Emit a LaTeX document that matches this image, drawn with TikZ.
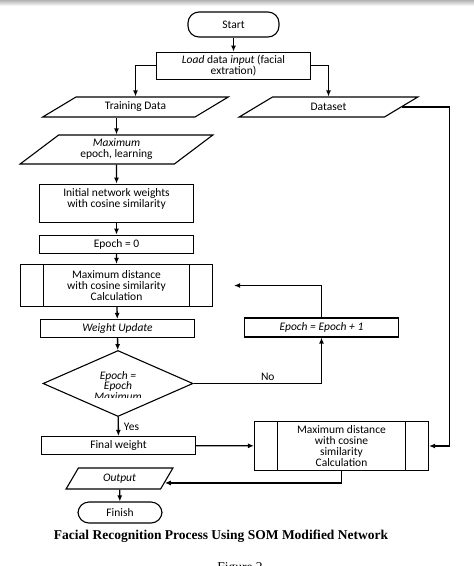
\documentclass[tikz,border=0pt]{standalone}
\usepackage{fontspec}
\setmainfont{Liberation Serif}
\setsansfont{Carlito}
\usetikzlibrary{arrows.meta,positioning,calc,shapes.geometric}

\begin{document}
\begin{tikzpicture}[x=1pt,y=-1pt,>={Latex[length=6pt,width=5pt]},
  font=\sffamily\fontsize{11.5}{11}\selectfont,
  base/.style={draw,line width=1.1pt,inner sep=0pt,align=center},
  proc/.style={base,rectangle,minimum width=154pt,minimum height=18pt},
  subproc/.style={proc,path picture={
    \draw[line width=1.1pt] ([xshift=23pt]path picture bounding box.north west) -- ([xshift=23pt]path picture bounding box.south west);
    \draw[line width=1.1pt] ([xshift=-23pt]path picture bounding box.north east) -- ([xshift=-23pt]path picture bounding box.south east);}},
  io/.style 2 args={base,trapezium,trapezium stretches=true,trapezium left angle=#1,trapezium right angle=#2},
  term/.style={base,rectangle,rounded corners=11pt},
  decision/.style={base,diamond,minimum width=150pt,minimum height=66pt},
  flow/.style={->,line width=1.3pt}]
\useasboundingbox (0,0) rectangle (474,566);
\shade[top color=gray!60,bottom color=white] (0,0) rectangle (474,6);

\node[term,minimum width=91pt,minimum height=25pt] (start) at (233.5,24.5) {Start};
\node[proc,minimum height=27pt,below=14pt of start] (load) {\textit{Load} data \textit{input} (facial\\extration)};
\node[io={30}{150},minimum width=187pt,minimum height=20pt] (train) at (135.5,107) {Training Data};
\node[io={35}{145},minimum width=179pt,minimum height=20pt] (data) at (328.5,107) {Dataset};
\node[io={41}{139},minimum width=193pt,minimum height=29pt] (maxep) at (116.5,149.5) {\itshape Maximum\\epoch, learning};
\node[proc,minimum height=38pt,below=19pt of maxep] (init) {Initial network weights\\with cosine similarity\\~};
\node[proc,below=12pt of init] (epzero) {Epoch = 0};
\node[subproc,minimum width=192pt,minimum height=42pt] (calc) at (116.5,285.5) {Maximum distance\\with cosine similarity\\Calculation};
\node[proc] (update) at (117.5,328.5) {\itshape Weight Update};
\node[decision] (check) at (118,383.5) {};
\node[proc] (final) at (118.5,445.5) {Final weight};
\node[io={62}{118},minimum width=107pt,minimum height=21pt] (output) at (119.5,478.5) {\itshape Output};
\node[term,minimum width=84pt,minimum height=21pt] (finish) at (120,512.5) {Finish};
\node[proc,minimum height=19pt] (next) at (321.5,327.5) {\itshape Epoch = Epoch + 1};
\node[subproc,minimum width=174pt,minimum height=49pt] (calctest) at (341.5,446) {Maximum distance\\with cosine\\similarity\\Calculation};

% text of the decision is cut off in the source
\begin{scope}
  \clip (40,355) rectangle (196,397);
  \node[font=\sffamily\itshape\fontsize{11.5}{10.5}\selectfont,align=center] (checktext) at (check.center |- 0,386) {Epoch =\\Epoch\\Maximum};
\end{scope}

\draw[flow] (start) -- (load);
\draw[flow] (load.west) -| (train.north);
\draw[flow] (load.east) -| (data.north);
\draw[flow] (train.south -| maxep.north) -- (maxep.north);
\draw[flow] (maxep) -- (init);
\draw[flow] (init) -- (epzero);
\draw[flow] (epzero) -- (calc);
\draw[flow] (calc) -- (update);
\draw[flow] (update) -- (check);
\draw[flow] (check.east) -| (next.south) node[pos=0.29,above,inner sep=2pt] {No};
\draw[flow] (next.north) |- ([xshift=21pt]calc.east);
\draw[flow] (check) -- (final) node[midway,right,inner sep=5pt] {Yes};
\draw[flow] (final) -- (calctest);
\draw[flow] (data.east) -- ++(47,0) |- (calctest.east);
\draw[flow] (calctest.south) |- ($(output.bottom right corner)!0.3!(output.top right corner)$);
\draw[flow] (output) -- (finish);

\node[font=\rmfamily\bfseries\fontsize{13.5}{14}\selectfont] (caption) at (221,536) {Facial Recognition Process Using SOM Modified Network};
\node[font=\rmfamily\fontsize{13.5}{14}\selectfont,anchor=base] (figlabel) at (240,571) {Figure 2};
\end{tikzpicture}
\end{document}
